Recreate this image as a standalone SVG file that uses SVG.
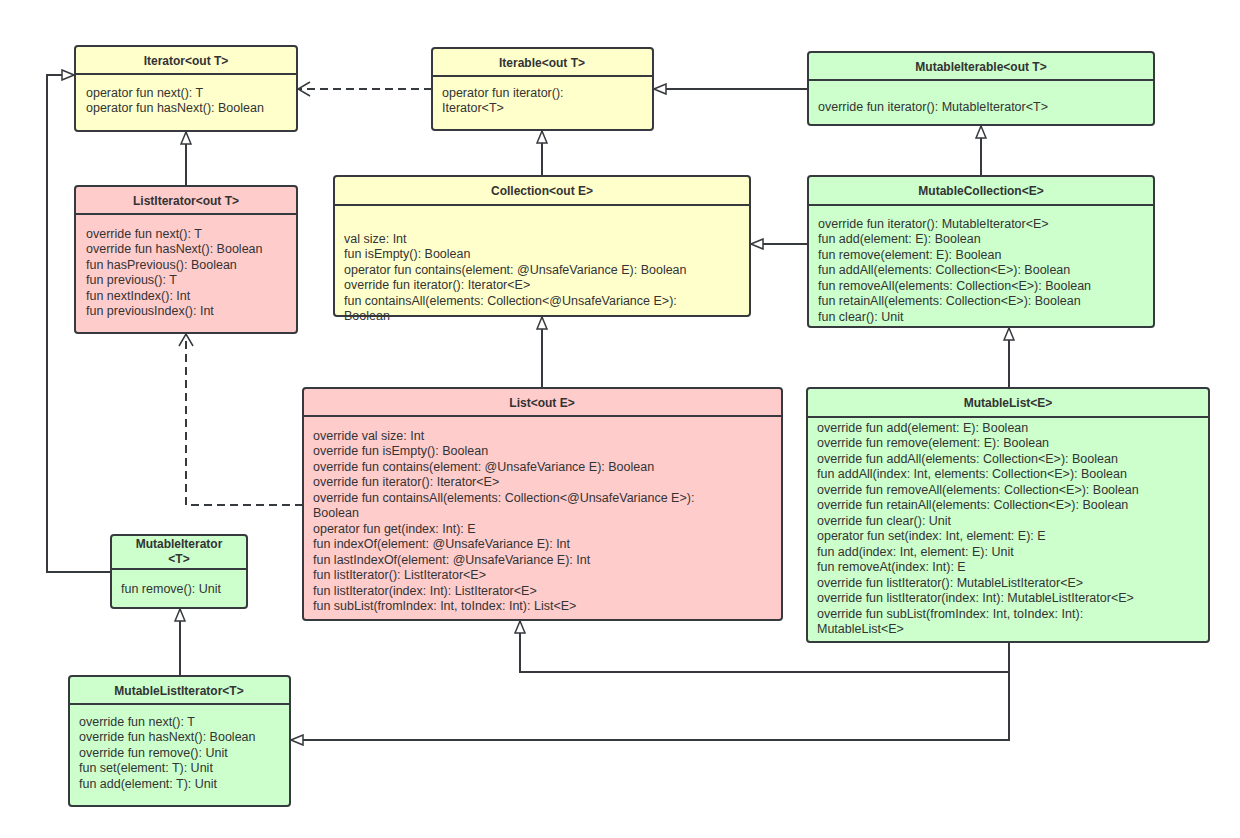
<svg xmlns="http://www.w3.org/2000/svg" width="1240" height="838" viewBox="0 0 1240 838">
<defs>
<style>
.b{stroke:#36393d;stroke-width:2}
.y{fill:#ffffcc}.r{fill:#ffcccc}.g{fill:#ccffcc}
text{font-family:"Liberation Sans","Noto Sans",sans-serif;font-size:12.5px;fill:#333}
.t{font-weight:bold;text-anchor:middle;font-size:12px}
.c{fill:none;stroke:#36393d;stroke-width:2}
.d{stroke-dasharray:8 5}
</style>
<marker id="tri" markerWidth="14" markerHeight="12" refX="13" refY="6" orient="auto" markerUnits="userSpaceOnUse"><path d="M1,1 L13,6 L1,11 Z" fill="#fff" stroke="#36393d" stroke-width="1.5"/></marker>
<marker id="open" markerWidth="14" markerHeight="16" refX="13" refY="8" orient="auto" markerUnits="userSpaceOnUse"><path d="M1,1 L13,8 L1,15" fill="none" stroke="#36393d" stroke-width="1.5"/></marker>
</defs>
<rect width="1240" height="838" fill="#fff"/>
<g id="connectors">
<path class="c d" d="M432,89 H298" marker-end="url(#open)"/>
<path class="c" d="M808,89 H654" marker-end="url(#tri)"/>
<path class="c" d="M186,186 V132" marker-end="url(#tri)"/>
<path class="c" d="M542,176 V131" marker-end="url(#tri)"/>
<path class="c" d="M981,176 V126" marker-end="url(#tri)"/>
<path class="c" d="M808,244 H751" marker-end="url(#tri)"/>
<path class="c" d="M542,388 V317" marker-end="url(#tri)"/>
<path class="c" d="M1009,388 V328" marker-end="url(#tri)"/>
<path class="c d" d="M303,505 H186 V334" marker-end="url(#open)"/>
<path class="c" d="M111,572 H47 V75 H74" marker-end="url(#tri)"/>
<path class="c" d="M180,676 V609" marker-end="url(#tri)"/>
<path class="c" d="M1009,642 V672 H520 V621" marker-end="url(#tri)"/>
<path class="c" d="M1009,672 V740 H291" marker-end="url(#tri)"/>
</g>
<g id="Iterator">
<rect class="b y" x="75" y="46" width="222" height="85" rx="3"/><path class="b" d="M75,74 H297"/>
<text class="t" x="186" y="65">Iterator&lt;out T&gt;</text>
<text x="86" y="97">operator fun next(): T</text>
<text x="86" y="112">operator fun hasNext(): Boolean</text>
</g>
<g id="Iterable">
<rect class="b y" x="432" y="48" width="221" height="82" rx="3"/><path class="b" d="M432,76 H653"/>
<text class="t" x="542" y="67">Iterable&lt;out T&gt;</text>
<text x="442" y="97">operator fun iterator():</text>
<text x="442" y="112">Iterator&lt;T&gt;</text>
</g>
<g id="MutableIterable">
<rect class="b g" x="808" y="52" width="346" height="73" rx="3"/><path class="b" d="M808,80 H1154"/>
<text class="t" x="981" y="71">MutableIterable&lt;out T&gt;</text>
<text x="818" y="111">override fun iterator(): MutableIterator&lt;T&gt;</text>
</g>
<g id="ListIterator">
<rect class="b r" x="75" y="186" width="222" height="147" rx="3"/><path class="b" d="M75,214 H297"/>
<text class="t" x="186" y="205">ListIterator&lt;out T&gt;</text>
<text x="86" y="238">override fun next(): T</text>
<text x="86" y="253">override fun hasNext(): Boolean</text>
<text x="86" y="269">fun hasPrevious(): Boolean</text>
<text x="86" y="284">fun previous(): T</text>
<text x="86" y="300">fun nextIndex(): Int</text>
<text x="86" y="315">fun previousIndex(): Int</text>
</g>
<g id="Collection">
<rect class="b y" x="334" y="176" width="416" height="140" rx="3"/><path class="b" d="M334,205 H750"/>
<text class="t" x="542" y="195">Collection&lt;out E&gt;</text>
<text x="344" y="243">val size: Int</text>
<text x="344" y="258">fun isEmpty(): Boolean</text>
<text x="344" y="274">operator fun contains(element: @UnsafeVariance E): Boolean</text>
<text x="344" y="289">override fun iterator(): Iterator&lt;E&gt;</text>
<text x="344" y="305">fun containsAll(elements: Collection&lt;@UnsafeVariance E&gt;):</text>
<text x="344" y="320">Boolean</text>
</g>
<g id="MutableCollection">
<rect class="b g" x="808" y="176" width="346" height="151" rx="3"/><path class="b" d="M808,205 H1154"/>
<text class="t" x="981" y="195">MutableCollection&lt;E&gt;</text>
<text x="818" y="228">override fun iterator(): MutableIterator&lt;E&gt;</text>
<text x="818" y="243">fun add(element: E): Boolean</text>
<text x="818" y="259">fun remove(element: E): Boolean</text>
<text x="818" y="274">fun addAll(elements: Collection&lt;E&gt;): Boolean</text>
<text x="818" y="290">fun removeAll(elements: Collection&lt;E&gt;): Boolean</text>
<text x="818" y="305">fun retainAll(elements: Collection&lt;E&gt;): Boolean</text>
<text x="818" y="321">fun clear(): Unit</text>
</g>
<g id="List">
<rect class="b r" x="303" y="388" width="479" height="232" rx="3"/><path class="b" d="M303,416 H782"/>
<text class="t" x="542" y="407">List&lt;out E&gt;</text>
<text x="313" y="440">override val size: Int</text>
<text x="313" y="455">override fun isEmpty(): Boolean</text>
<text x="313" y="471">override fun contains(element: @UnsafeVariance E): Boolean</text>
<text x="313" y="486">override fun iterator(): Iterator&lt;E&gt;</text>
<text x="313" y="502">override fun containsAll(elements: Collection&lt;@UnsafeVariance E&gt;):</text>
<text x="313" y="517">Boolean</text>
<text x="313" y="533">operator fun get(index: Int): E</text>
<text x="313" y="548">fun indexOf(element: @UnsafeVariance E): Int</text>
<text x="313" y="564">fun lastIndexOf(element: @UnsafeVariance E): Int</text>
<text x="313" y="579">fun listIterator(): ListIterator&lt;E&gt;</text>
<text x="313" y="595">fun listIterator(index: Int): ListIterator&lt;E&gt;</text>
<text x="313" y="610">fun subList(fromIndex: Int, toIndex: Int): List&lt;E&gt;</text>
</g>
<g id="MutableList">
<rect class="b g" x="807" y="388" width="402" height="254" rx="3"/><path class="b" d="M807,417 H1209"/>
<text class="t" x="1008" y="407">MutableList&lt;E&gt;</text>
<text x="817" y="432">override fun add(element: E): Boolean</text>
<text x="817" y="447">override fun remove(element: E): Boolean</text>
<text x="817" y="463">override fun addAll(elements: Collection&lt;E&gt;): Boolean</text>
<text x="817" y="478">fun addAll(index: Int, elements: Collection&lt;E&gt;): Boolean</text>
<text x="817" y="494">override fun removeAll(elements: Collection&lt;E&gt;): Boolean</text>
<text x="817" y="509">override fun retainAll(elements: Collection&lt;E&gt;): Boolean</text>
<text x="817" y="525">override fun clear(): Unit</text>
<text x="817" y="540">operator fun set(index: Int, element: E): E</text>
<text x="817" y="556">fun add(index: Int, element: E): Unit</text>
<text x="817" y="571">fun removeAt(index: Int): E</text>
<text x="817" y="587">override fun listIterator(): MutableListIterator&lt;E&gt;</text>
<text x="817" y="602">override fun listIterator(index: Int): MutableListIterator&lt;E&gt;</text>
<text x="817" y="618">override fun subList(fromIndex: Int, toIndex: Int):</text>
<text x="817" y="633">MutableList&lt;E&gt;</text>
</g>
<g id="MutableIterator">
<rect class="b g" x="111" y="535" width="136" height="73" rx="3"/><path class="b" d="M111,569 H247"/>
<text class="t" x="179" y="548">MutableIterator</text>
<text class="t" x="179" y="563">&lt;T&gt;</text>
<text x="121" y="593">fun remove(): Unit</text>
</g>
<g id="MutableListIterator">
<rect class="b g" x="69" y="676" width="221" height="130" rx="3"/><path class="b" d="M69,704 H290"/>
<text class="t" x="179" y="695">MutableListIterator&lt;T&gt;</text>
<text x="79" y="726">override fun next(): T</text>
<text x="79" y="741">override fun hasNext(): Boolean</text>
<text x="79" y="757">override fun remove(): Unit</text>
<text x="79" y="772">fun set(element: T): Unit</text>
<text x="79" y="788">fun add(element: T): Unit</text>
</g>
</svg>
